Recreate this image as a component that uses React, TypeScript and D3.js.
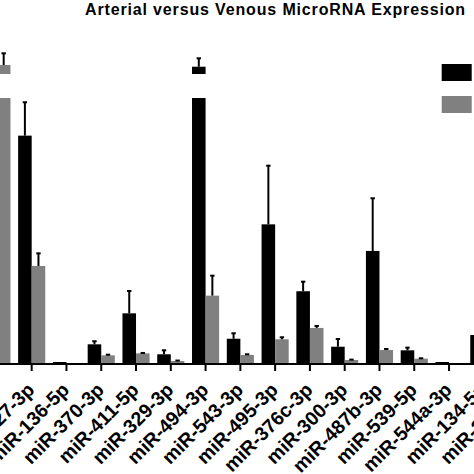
import React from "react";
import * as d3 from "d3";

const categories = [
  "miR-379-5p", "miR-127-3p", "miR-136-5p", "miR-370-3p", "miR-411-5p", "miR-329-3p",
  "miR-494-3p", "miR-543-3p", "miR-495-3p", "miR-376c-3p", "miR-300-3p", "miR-487b-3p",
  "miR-539-5p", "miR-544a-3p", "miR-134-5p", "miR-382-5p",
];
const seriesNames = ["Arterial", "Venous"];
const arterial = [12, 17.17, 0.15, 1.48, 3.81, 0.73, 47.3, 1.9, 10.5, 5.47, 1.3, 8.5, 1.03, 0.15, 2.18, 3.0];
const arterialSem = [1, 2.51, 0, 0.23, 1.68, 0.3, 8.4, 0.41, 4.41, 0.72, 0.58, 3.96, 0.2, 0, 0.5, 0.5];
const venous = [49, 7.37, 0.02, 0.65, 0.8, 0.23, 5.14, 0.68, 1.86, 2.71, 0.3, 1.05, 0.4, 0.0, 0.9, 1.0];
const venousSem = [11.7, 0.95, 0, 0.05, 0.03, 0.03, 1.5, 0.05, 0.15, 0.15, 0.03, 0.08, 0.03, 0, 0.1, 0.1];
const title = "Arterial versus Venous MicroRNA Expression";

const W = 474;
const H = 474;
const step = 34.78;
const firstCenter = -3.1;
const lowerMax = 20;
const upperMin = 40;

export default function App() {
  const x = d3
    .scaleBand<string>()
    .domain(categories)
    .range([firstCenter - step / 2, firstCenter - step / 2 + categories.length * step])
    .paddingInner(0.22)
    .paddingOuter(0.11);
  const xs = d3.scaleBand<string>().domain(seriesNames).range([0, x.bandwidth()]);
  const yLow = d3.scaleLinear().domain([0, lowerMax]).range([364, 98]);
  const yUp = d3.scaleLinear().domain([upperMin, 60]).range([74, 54]);
  const colors = d3.scaleOrdinal<string, string>().domain(seriesNames).range(["#000000", "#808080"]);

  const series = [
    { name: "Arterial", vals: arterial, sem: arterialSem },
    { name: "Venous", vals: venous, sem: venousSem },
  ];

  const marks: React.ReactNode[] = [];
  series.forEach((s) => {
    categories.forEach((c, i) => {
      const v = s.vals[i];
      const e = s.sem[i];
      const bx = (x(c) as number) + (xs(s.name) as number);
      const bw = xs.bandwidth();
      const cx = bx + bw / 2;
      const fill = colors(s.name);
      if (v > lowerMax) {
        marks.push(
          <rect key={`l${s.name}${i}`} x={bx} y={yLow(lowerMax)} width={bw} height={yLow(0) - yLow(lowerMax)} fill={fill} />
        );
        marks.push(
          <rect key={`u${s.name}${i}`} x={bx} y={yUp(v)} width={bw} height={yUp(upperMin) - yUp(v)} fill={fill} />
        );
        if (e > 0) {
          marks.push(
            <g key={`e${s.name}${i}`}>
              <line x1={cx} x2={cx} y1={yUp(v)} y2={yUp(v + e)} stroke="#000" strokeWidth={2} />
              <line x1={cx - 2.2} x2={cx + 2.2} y1={yUp(v + e)} y2={yUp(v + e)} stroke="#000" strokeWidth={2} />
            </g>
          );
        }
      } else {
        marks.push(
          <rect key={`b${s.name}${i}`} x={bx} y={yLow(v)} width={bw} height={yLow(0) - yLow(v)} fill={fill} />
        );
        if (e > 0) {
          marks.push(
            <g key={`e${s.name}${i}`}>
              <line x1={cx} x2={cx} y1={yLow(v)} y2={yLow(v + e)} stroke="#000" strokeWidth={2} />
              <line x1={cx - 2.2} x2={cx + 2.2} y1={yLow(v + e)} y2={yLow(v + e)} stroke="#000" strokeWidth={2} />
            </g>
          );
        }
      }
    });
  });

  const base = yLow(0);

  return (
    <svg width={W} height={H} style={{ position: "absolute", left: 0, top: 0, background: "#fff" }}
      fontFamily="'Liberation Sans', Arial, sans-serif">
      <rect x={0} y={0} width={W} height={H} fill="#fff" />
      <text x={275.5} y={14.5} textAnchor="middle" fontSize={16} fontWeight="bold" letterSpacing={0.85} fill="#000">
        {title}
      </text>
      {marks}
      <line x1={0} x2={W} y1={base} y2={base} stroke="#000" strokeWidth={2} />
      {categories.map((c) => {
        const cx = (x(c) as number) + x.bandwidth() / 2;
        return (
          <g key={c}>
            <line x1={cx} x2={cx} y1={base} y2={base + 7} stroke="#000" strokeWidth={2} />
            <text
              transform={`translate(${cx + 4},${base + 27}) rotate(-45)`}
              textAnchor="end"
              fontSize={19.5}
              fontWeight="bold"
              fill="#000"
            >
              {c}
            </text>
          </g>
        );
      })}
      {seriesNames.map((n, i) => (
        <rect key={n} x={441.7} y={64 + i * 32} width={30} height={17} fill={colors(n)} />
      ))}
    </svg>
  );
}
